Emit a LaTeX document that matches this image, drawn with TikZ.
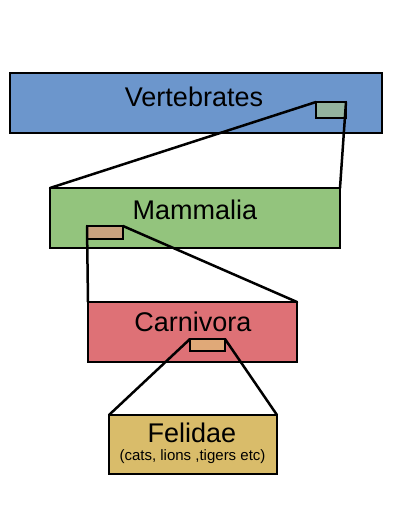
\documentclass[tikz,border=0pt]{standalone}
\usepackage{fontspec}
\setmainfont{Liberation Sans}
\usepackage{tikz}
\usetikzlibrary{shapes}

\definecolor{vertblue}{RGB}{108,150,204}
\definecolor{mammgreen}{RGB}{147,196,125}
\definecolor{carnred}{RGB}{222,113,118}
\definecolor{felyellow}{RGB}{217,188,106}
\definecolor{vertzoom}{RGB}{147,180,160}
\definecolor{mammzoom}{RGB}{201,162,127}
\definecolor{carnzoom}{RGB}{224,169,120}

\begin{document}
\begin{tikzpicture}[x=1pt,y=-1pt,
  taxon/.style={shape=rectangle,draw=black,line width=2.8pt,inner sep=0pt,outer sep=0pt},
  zoombox/.style={shape=rectangle,draw=black,line width=2.4pt,inner sep=0pt,outer sep=0pt},
  taxonlabel/.style={anchor=base,inner sep=0pt,font=\fontsize{27}{30}\selectfont},
  notelabel/.style={anchor=base,inner sep=0pt,font=\fontsize{15}{18}\selectfont}]
\useasboundingbox[fill=white] (0,0) rectangle (400,523);
\node[taxon,fill=vertblue,minimum width=372pt,minimum height=60pt] (vert) at (196,103) {};
\node[taxon,fill=mammgreen,minimum width=290pt,minimum height=60pt] (mamm) at (195,218) {};
\node[taxon,fill=carnred,minimum width=209pt,minimum height=60pt] (carn) at (192.5,332) {};
\node[taxon,fill=felyellow,minimum width=168pt,minimum height=59pt] (feli) at (193,444.5) {};

\node[taxonlabel] (verttext) at (194,106) {Vertebrates};
\node[taxonlabel] (mammtext) at (195,219) {Mammalia};
\node[taxonlabel] (carntext) at (193,331) {Carnivora};
\node[taxonlabel] (felitext) at (192,442) {Felidae};
\node[notelabel] (felinote) at (192.5,460) {(cats, lions ,tigers etc)};

\node[zoombox,fill=vertzoom,minimum width=30pt,minimum height=16pt] (vertzoom) at (331,110) {};
\node[zoombox,fill=mammzoom,minimum width=36pt,minimum height=13pt] (mammzoom) at (105,232.5) {};
\node[zoombox,fill=carnzoom,minimum width=35pt,minimum height=12pt] (carnzoom) at (207.5,345) {};

\path [draw=black,line width=2.5pt,line cap=round] (vertzoom.north west) -- (mamm.north west);
\path [draw=black,line width=2.5pt,line cap=round] (vertzoom.north east) -- (mamm.north east);
\path [draw=black,line width=2.5pt,line cap=round] (mammzoom.north west) -- (carn.north west);
\path [draw=black,line width=2.5pt,line cap=round] (mammzoom.north east) -- (carn.north east);
\path [draw=black,line width=2.5pt,line cap=round] (carnzoom.north west) -- (feli.north west);
\path [draw=black,line width=2.5pt,line cap=round] (carnzoom.north east) -- (feli.north east);
\end{tikzpicture}
\end{document}
